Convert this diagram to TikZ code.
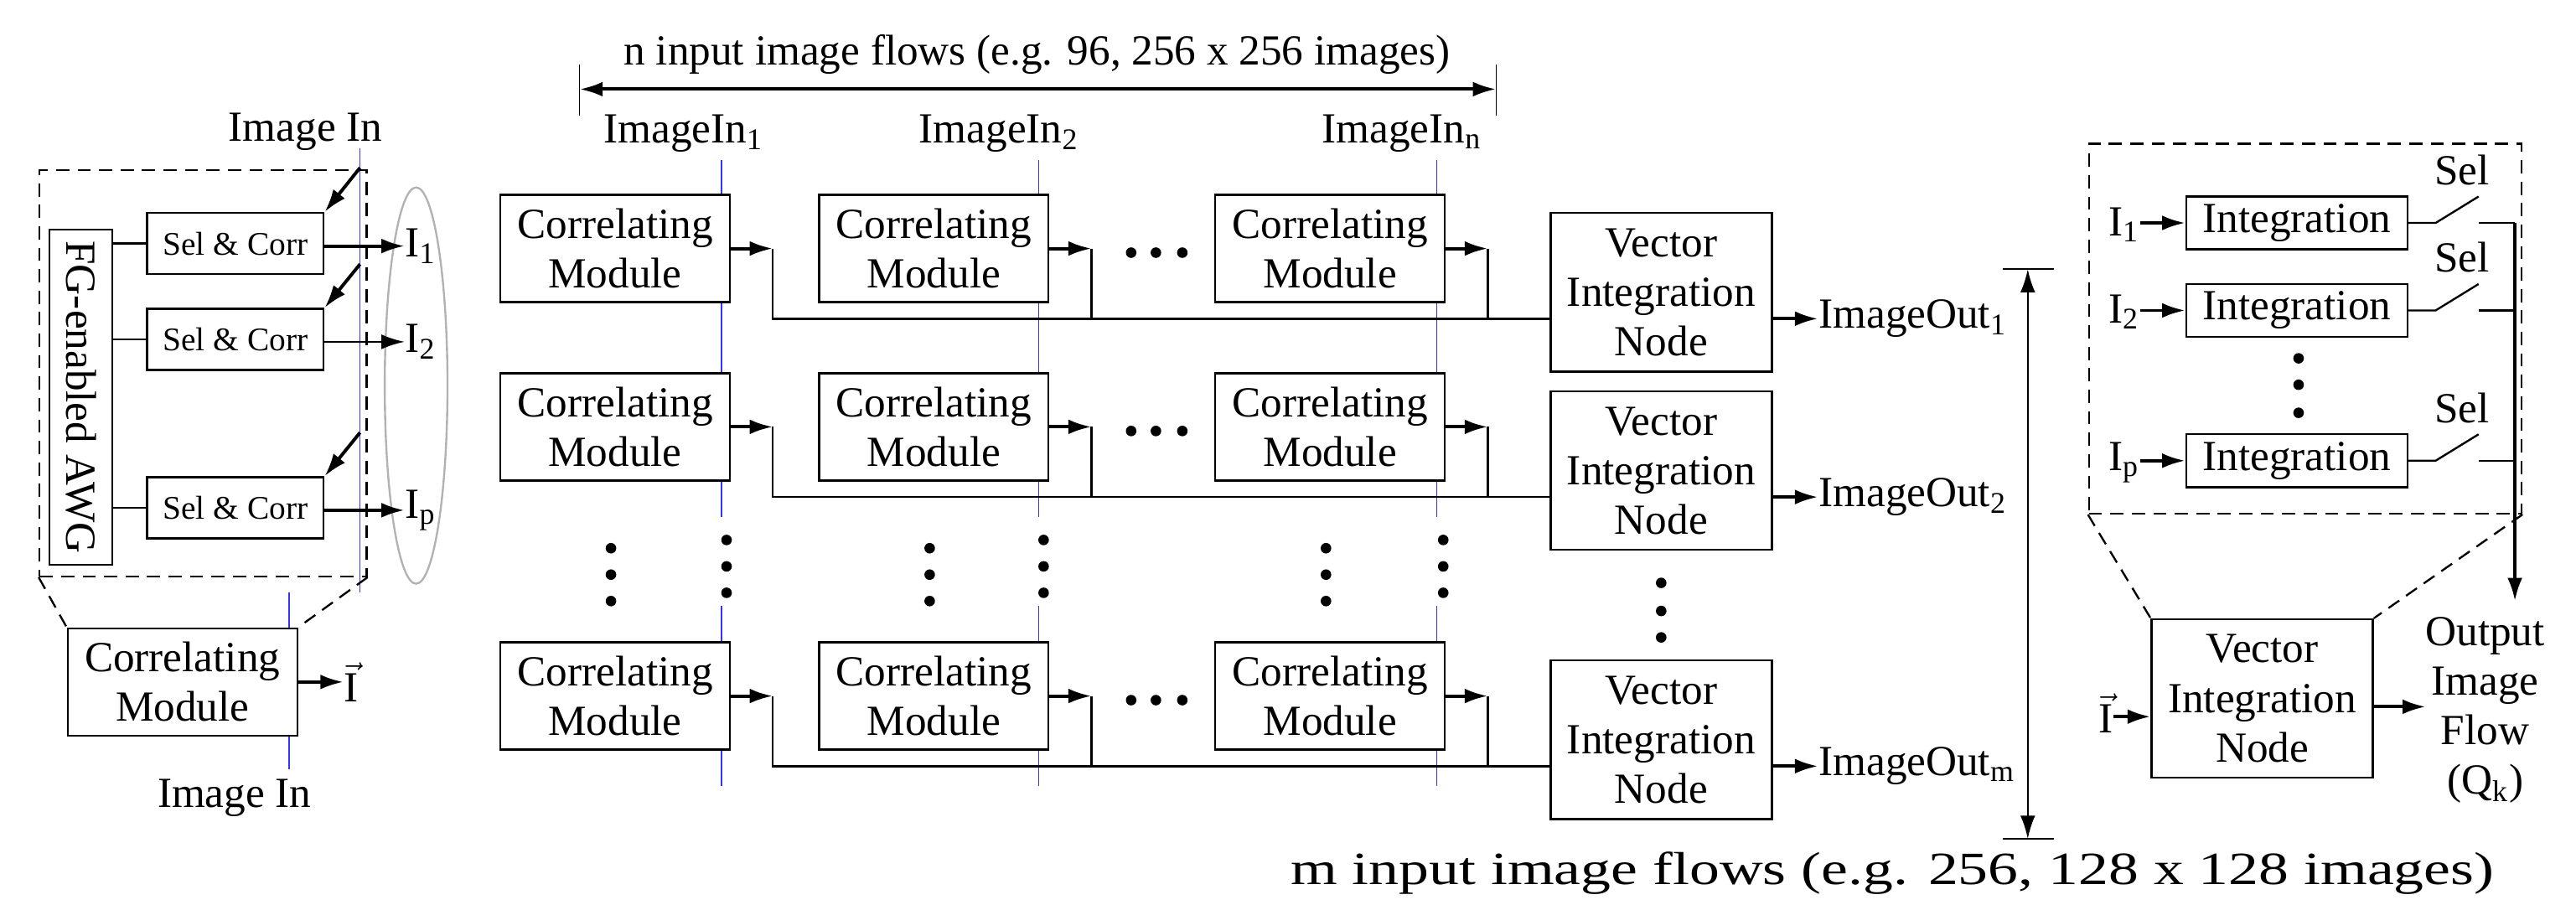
\documentclass[tikz,border=0pt]{standalone}
\usepackage{fontspec}
\setmainfont{Liberation Serif}
\usetikzlibrary{arrows.meta,calc,shapes.geometric}
\begin{document}
\begin{tikzpicture}[x=0.5pt,y=-0.5pt,
  font=\fontsize{13}{15}\selectfont,
  mybox/.style={draw,line width=0.6pt,fill=white,align=center,inner sep=0pt},
  mycm/.style={mybox,minimum width=69.5pt,minimum height=32.5pt},
  myvin/.style={mybox,minimum width=67pt,minimum height=48pt},
  mysel/.style={mybox,minimum width=53.5pt,minimum height=18.5pt,font=\fontsize{10}{12}\selectfont},
  myinteg/.style={mybox,minimum width=67pt,minimum height=16pt},
  mylbl/.style={inner sep=0pt},
  myarr/.style={line width=1pt,-{Latex[length=7pt,width=4.5pt]}},
  mydarr/.style={line width=1pt,{Latex[length=7pt,width=4.5pt]}-{Latex[length=7pt,width=4.5pt]}},
  mythn/.style={line width=0.6pt},
  mybl/.style={draw=blue!80,line width=0.4pt},
  mydsh/.style={line width=0.6pt,dash pattern=on 4pt off 2.5pt},
  mydot/.style={fill,circle,inner sep=0pt,minimum size=3.2pt}]
\useasboundingbox (0,0) rectangle (1560,548);

%================ LEFT PANEL
\coordinate (lb1) at (218,90); \coordinate (lb2) at (218,359);
\draw[mybl] (lb1) -- (lb2);
\coordinate (lb3) at (175,359); \coordinate (lb4) at (175,466);
\draw[mybl] (lb3) -- (lb4);
\node[mydsh,draw,minimum width=99pt,minimum height=123pt,inner sep=0pt] (ldash) at (123,226) {};
\node[mybox,minimum width=19pt,minimum height=101.5pt] (fg) at (49,240.5) {\rotatebox{-90}{FG-enabled AWG}};
\node[mysel] (s1) at (142.5,147.5) {Sel \& Corr};
\node[mysel] (s2) at (142.5,205.5) {Sel \& Corr};
\node[mysel] (s3) at (142.5,307.5) {Sel \& Corr};
\foreach \i in {1,2,3} \draw[mythn] (fg.east |- s\i) -- (s\i.west);
\node[draw=gray!60,line width=0.6pt,ellipse,minimum width=19pt,minimum height=120pt,inner sep=0pt] (ell) at (252,233.5) {};
\node[mylbl,anchor=west] (i1) at (245,149) {I\textsubscript{1}};
\node[mylbl,anchor=west] (i2) at (245,207) {I\textsubscript{2}};
\node[mylbl,anchor=west] (ip) at (245,309) {I\textsubscript{p}};
\draw[myarr] (s1.east |- i1.west) -- (i1.west);
\draw[myarr,line width=0.6pt] (s2.east |- i2.west) -- (i2.west);
\draw[myarr] (s3.east |- ip.west) -- (ip.west);
\coordinate (d1) at (218,101.6); \coordinate (d2) at (218,160); \coordinate (d3) at (218,262);
\draw[myarr] (d1) -- (s1.north east);
\draw[myarr] (d2) -- (s2.north east);
\draw[myarr] (d3) -- (s3.north east);
\node (imin1) at (185,80) {Image In};
\node (imin2) at (142,483) {Image In};
\node[mycm] (lcm) at (110.5,413) {Correlating\\Module};
\draw[mydsh] (ldash.south west) -- (lcm.north west);
\draw[mydsh] (ldash.south east) -- (lcm.north east);
\node[mylbl,anchor=west] (ivec) at (208,413) {$\vec{\textrm{I}}$};
\draw[myarr] (lcm.east) -- (ivec.west);

%================ MIDDLE
\foreach \bx in {437,629,870} {
  \coordinate (ba) at (\bx,97); \coordinate (bb) at (\bx,313);
  \coordinate (bc) at (\bx,367); \coordinate (bd) at (\bx,476);
  \draw[mybl] (ba) -- (bb); \draw[mybl] (bc) -- (bd);
}
\coordinate (ta) at (351,54); \coordinate (tb) at (906,54);
\draw[mydarr] (ta) -- (tb);
\coordinate (ta1) at (351,39); \coordinate (ta2) at (351,70);
\coordinate (tb1) at (906,39); \coordinate (tb2) at (906,70);
\draw[line width=0.4pt] (ta1) -- (ta2); \draw[line width=0.4pt] (tb1) -- (tb2);
\node (ntext) at (628,33) {n input image flows (e.g. 96, 256 x 256 images)};
\node (in1) at (414,81) {ImageIn\textsubscript{1}};
\node (in2) at (605,81) {ImageIn\textsubscript{2}};
\node (inn) at (849,81) {ImageIn\textsubscript{n}};

\foreach \r/\y/\o in {1/150.5/1,2/258.5/2,3/421.5/m} {
  \node[myvin] (v\r) at (1006,{\y+26.5}) {Vector\\Integration\\Node};
  \coordinate (bus\r) at (939,{\y+42.5});
  \foreach \c/\x in {1/372.5,2/565.5,3/805.5} {
    \node[mycm] (cm\r\c) at (\x,\y) {Correlating\\Module};
    \coordinate (t\r\c) at ({\x+95.5},\y);
    \draw[myarr] (cm\r\c.east) -- (t\r\c);
  }
  \draw[mythn] (t\r1) |- (bus\r);
  \draw[mythn] (t\r2) -- (t\r2 |- bus\r);
  \draw[mythn] (t\r3) -- (t\r3 |- bus\r);
  \node[mylbl,anchor=west] (out\r) at (1101,{\y+42.5}) {ImageOut\textsubscript{\o}};
  \draw[myarr] (bus\r -| v\r.east) -- (out\r.west);
  \foreach \dx in {685,700,716} \node[mydot] at (\dx,{\y+2.5}) {};
}
\foreach \dx/\dy in {370/332,563/332,803/332,440/327,632/327,874/327} {
  \node[mydot] at (\dx,\dy) {}; \node[mydot] at (\dx,{\dy+16}) {}; \node[mydot] at (\dx,{\dy+32}) {};
}
\foreach \dy in {353,370,386} \node[mydot] at (1006,\dy) {};
\coordinate (ma) at (1228,163); \coordinate (mb) at (1228,508);
\draw[mydarr,line width=0.6pt] (ma) -- (mb);
\coordinate (ma1) at (1213,163); \coordinate (ma2) at (1244,163);
\coordinate (mb1) at (1213,508); \coordinate (mb2) at (1244,508);
\draw[line width=0.4pt] (ma1) -- (ma2); \draw[line width=0.4pt] (mb1) -- (mb2);
\node (mtext) at (1146,529) {\fontsize{14}{16}\selectfont\scalebox{1.3}[1]{m input image flows (e.g. 256, 128 x 128 images)}};

%================ RIGHT PANEL
\node[mydsh,draw,minimum width=131pt,minimum height=112pt,inner sep=0pt] (rdash) at (1396,199) {};
\foreach \i/\y/\s in {1/135/1,2/188/2,3/279/p} {
  \node[myinteg] (g\i) at (1391,\y) {Integration};
  \node[mylbl,anchor=east] (ri\i) at (1296,{\y+1}) {I\textsubscript{\s}};
  \draw[myarr] (ri\i.east |- g\i.west) -- (g\i.west);
  \coordinate (sw\i) at (1475,\y); \coordinate (sa\i) at (1501,{\y-16});
  \coordinate (sc\i) at (1501,\y); \coordinate (sd\i) at (1523,\y);
  \draw[mythn] (g\i.east) -- (sw\i) -- (sa\i);
  \draw[mythn] (sc\i) -- (sd\i);
  \node (sel\i) at (1491,{\y-32}) {Sel};
}
\foreach \dy in {217,233,250} \node[mydot] at (1392,\dy) {};
\node[myvin] (rv) at (1370,423) {Vector\\Integration\\Node};
\coordinate (qe) at (1523,364);
\draw[myarr] (sd1) -- (qe);
\draw[mydsh] (rdash.south west) -- (rv.north west);
\draw[mydsh] (rdash.south east) -- (rv.north east);
\node[mylbl,anchor=east] (rivec) at (1280,432) {$\vec{\textrm{I}}$};
\draw[myarr] (rivec.east |- 0,434) -- (rv.west |- 0,434);
\node[align=center] (qk) at (1505,430) {Output\\Image\\Flow\\(Q\textsubscript{k})};
\coordinate (qo) at (1469,428);
\draw[myarr] (rv.east |- qo) -- (qo);
\end{tikzpicture}
\end{document}
